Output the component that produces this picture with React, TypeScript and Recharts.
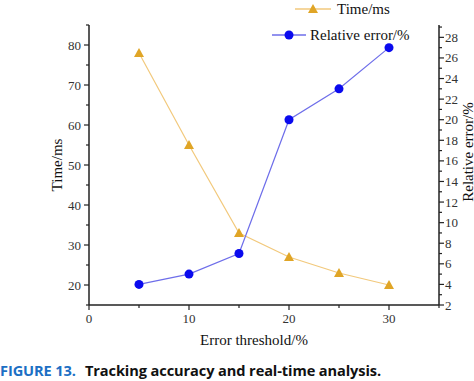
import React from 'react';
import { LineChart, Line, XAxis, YAxis, Label } from 'recharts';

const thresholds = [5, 10, 15, 20, 25, 30];
const timeMs = [78, 55, 33, 27, 23, 20];
const relError = [4, 5, 7, 20, 23, 27];

const xTicks = [0, 5, 10, 15, 20, 25, 30, 35];
const xLabels = [0, 10, 20, 30];
const leftTicks = [15, 20, 25, 30, 35, 40, 45, 50, 55, 60, 65, 70, 75, 80, 85];
const leftLabels = [20, 30, 40, 50, 60, 70, 80];
const rightTicks = [2, 3, 4, 5, 6, 7, 8, 9, 10, 11, 12, 13, 14, 15, 16, 17, 18, 19, 20, 21, 22, 23, 24, 25, 26, 27, 28, 29];
const rightLabels = [2, 4, 6, 8, 10, 12, 14, 16, 18, 20, 22, 24, 26, 28];

const data = thresholds.map((t, i) => ({ threshold: t, time: timeMs[i], error: relError[i] }));

const SERIF = "'Liberation Serif', 'DejaVu Serif', serif";
const AXIS = '#222';
const ORANGE = '#E0A526';
const ORANGE_LINE = '#F2C97C';
const BLUE = '#0A0AEE';
const BLUE_LINE = '#6E6EEA';

const XTick = (props: any) => {
  const { x, y, payload } = props;
  const major = xLabels.includes(payload.value);
  return (
    <g>
      <line x1={x} y1={y} x2={x} y2={y + (major ? 5 : 3)} stroke={AXIS} strokeWidth={1.2} />
      {major && (
        <text x={x} y={y + 9} dy="0.71em" textAnchor="middle" fontSize={13} fontFamily={SERIF} fill="#333">
          {payload.value}
        </text>
      )}
    </g>
  );
};

const LeftTick = (props: any) => {
  const { x, y, payload } = props;
  const major = leftLabels.includes(payload.value);
  return (
    <g>
      <line x1={x} y1={y} x2={x - (major ? 5 : 3)} y2={y} stroke={AXIS} strokeWidth={1.2} />
      {major && (
        <text x={x - 8} y={y} dy="0.35em" textAnchor="end" fontSize={13} fontFamily={SERIF} fill="#333">
          {payload.value}
        </text>
      )}
    </g>
  );
};

const RightTick = (props: any) => {
  const { x, y, payload } = props;
  const major = rightLabels.includes(payload.value);
  return (
    <g>
      <line x1={x} y1={y} x2={x + (major ? 5 : 3)} y2={y} stroke={AXIS} strokeWidth={1.2} />
      {major && (
        <text x={x + 6} y={y} dy="0.35em" textAnchor="start" fontSize={13} fontFamily={SERIF} fill="#333">
          {payload.value}
        </text>
      )}
    </g>
  );
};

const Triangle = (props: any) => {
  const { cx, cy } = props;
  if (cx == null || cy == null) return null;
  return <polygon points={`${cx},${cy - 5} ${cx - 5},${cy + 4} ${cx + 5},${cy + 4}`} fill={ORANGE} />;
};

const Dot = (props: any) => {
  const { cx, cy } = props;
  if (cx == null || cy == null) return null;
  return <circle cx={cx} cy={cy} r={4.5} fill={BLUE} />;
};

const LegendBox = () => (
  <div style={{ position: 'absolute', left: 0, top: 0, width: 474, height: 50, fontFamily: SERIF, fontSize: 15, color: '#111' }}>
    <div style={{ position: 'absolute', left: 295, top: 0, display: 'flex', alignItems: 'center', height: 18 }}>
      <svg width={36} height={18}>
        <line x1={0} y1={9} x2={36} y2={9} stroke={ORANGE_LINE} strokeWidth={1.5} />
        <polygon points="18,4 13,13 23,13" fill={ORANGE} />
      </svg>
      <span style={{ marginLeft: 6 }}>Time/ms</span>
    </div>
    <div style={{ position: 'absolute', left: 272, top: 26, display: 'flex', alignItems: 'center', height: 18 }}>
      <svg width={34} height={18}>
        <line x1={0} y1={9} x2={34} y2={9} stroke={BLUE_LINE} strokeWidth={1.5} />
        <circle cx={17} cy={9} r={4.5} fill={BLUE} />
      </svg>
      <span style={{ marginLeft: 4 }}>Relative error/%</span>
    </div>
  </div>
);

const VLabel = ({ viewBox, text, dx, dy = 0 }: any) => {
  const cx = viewBox.x + viewBox.width / 2 + dx;
  const cy = viewBox.y + viewBox.height / 2 + dy;
  return (
    <text x={cx} y={cy} transform={`rotate(-90 ${cx} ${cy})`} textAnchor="middle" dominantBaseline="central" fontSize={15} fontFamily={SERIF} fill="#111">
      {text}
    </text>
  );
};

export default function App() {
  return (
    <div style={{ position: 'absolute', left: 0, top: 0, width: 474, height: 381, background: '#fff' }}>
      <LineChart width={474} height={381} data={data} margin={{ top: 25, right: 0, bottom: 36, left: 0 }}>
        <XAxis
          dataKey="threshold"
          type="number"
          domain={[0, 35]}
          ticks={xTicks}
          interval={0}
          tick={XTick}
          tickLine={false}
          tickSize={0}
          tickMargin={0}
          height={40}
          axisLine={{ stroke: AXIS, strokeWidth: 1.5 }}
        >
          <Label
            content={(p: any) => (
              <text x={p.viewBox.x + p.viewBox.width / 2 - 10} y={p.viewBox.y + 35} textAnchor="middle" dominantBaseline="central" fontSize={15} fontFamily={SERIF} fill="#111">
                Error threshold/%
              </text>
            )}
          />
        </XAxis>
        <YAxis
          yAxisId="left"
          orientation="left"
          domain={[15, 85]}
          ticks={leftTicks}
          interval={0}
          tick={LeftTick}
          tickLine={false}
          tickSize={0}
          tickMargin={0}
          width={89}
          axisLine={{ stroke: AXIS, strokeWidth: 1.5 }}
        >
          <Label content={(p: any) => <VLabel viewBox={p.viewBox} text="Time/ms" dx={12} />} />
        </YAxis>
        <YAxis
          yAxisId="right"
          orientation="right"
          domain={[2, 29.2]}
          ticks={rightTicks}
          interval={0}
          tick={RightTick}
          tickLine={false}
          tickSize={0}
          tickMargin={0}
          width={35}
          axisLine={{ stroke: AXIS, strokeWidth: 1.5 }}
        >
          <Label content={(p: any) => <VLabel viewBox={p.viewBox} text="Relative error/%" dx={11} dy={-13} />} />
        </YAxis>
        <Line yAxisId="left" dataKey="time" name="Time/ms" stroke={ORANGE_LINE} strokeWidth={1.2} dot={Triangle} activeDot={false} isAnimationActive={false} />
        <Line yAxisId="right" dataKey="error" name="Relative error/%" stroke={BLUE_LINE} strokeWidth={1.2} dot={Dot} activeDot={false} isAnimationActive={false} />
      </LineChart>
      <LegendBox />
      <div style={{ position: 'absolute', left: 0, top: 360, fontFamily: "'Open Sans', sans-serif", fontWeight: 700, fontSize: 14.6, letterSpacing: -0.1, whiteSpace: 'nowrap', color: '#111' }}>
        <span style={{ color: '#1C6FC4' }}>FIGURE 13.</span>
        <span style={{ marginLeft: 9 }}>Tracking accuracy and real-time analysis.</span>
      </div>
    </div>
  );
}
